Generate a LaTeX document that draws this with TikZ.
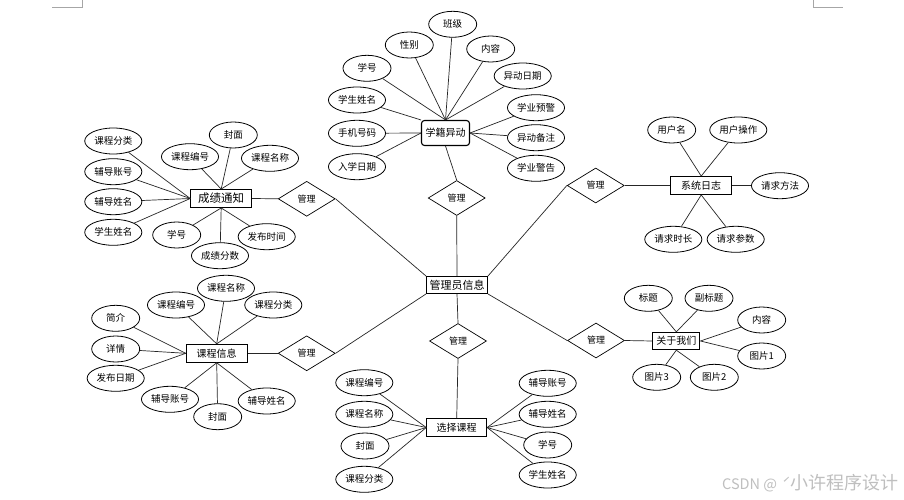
\documentclass[tikz,border=0pt]{standalone}
\usepackage{fontspec}
\setmainfont{Noto Sans CJK SC}
\usetikzlibrary{shapes.geometric}
\begin{document}
\begin{tikzpicture}[x=1pt,y=-1pt,
 attr/.style={ellipse, draw, line width=0.8pt, minimum width=48pt, minimum height=26pt, inner xsep=1.2pt, inner ysep=0pt, font=\fontsize{9.5}{10}\selectfont},
 wattr/.style={attr, minimum width=57pt},
 ent/.style={rectangle, draw, line width=0.9pt, minimum height=18pt, inner xsep=3pt, inner ysep=0pt, font=\fontsize{10}{11}\selectfont},
 rel/.style={diamond, draw, line width=0.7pt, minimum width=57pt, minimum height=35pt, aspect=1.65, inner sep=0pt, font=\fontsize{9}{10}\selectfont},
 lnk/.style={line width=0.7pt, black!85},
 cornermark/.style={line width=0.5pt, black!35}]
\useasboundingbox (0,0) rectangle (904,500);
\fill[white] (0,0) rectangle (904,500);
% page corner marks
\draw[cornermark] (52,7) -- (82,7) -- (82,0);
\draw[cornermark] (813,0) -- (813,7) -- (843,7);

% centre
\node[ent, minimum width=61pt, minimum height=17pt, font=\fontsize{11}{12}\selectfont] (adm) at (457,285) {管理员信息};

% 学籍异动
\node[ent, rounded corners=3pt, minimum width=48pt, minimum height=25pt, line width=1.1pt] (xj) at (445.5,133) {学籍异动};
\node[rel] (r1) at (456.7,198) {管理};
\node[attr] (bj) at (452.7,24.3) {班级};
\node[attr] (xb) at (409.3,45) {性别};
\node[attr] (nr) at (490.7,49) {内容};
\node[attr] (xh) at (367,68.3) {学号};
\node[wattr] (yd) at (522.7,76) {异动日期};
\node[wattr] (xs) at (357,100) {学生姓名};
\node[wattr] (yj) at (536,107.7) {学业预警};
\node[wattr] (sj) at (357,133.3) {手机号码};
\node[wattr] (bz) at (536,137.7) {异动备注};
\node[wattr] (rx) at (357,166.7) {入学日期};
\node[wattr] (jg) at (536,168.3) {学业警告};
\foreach \a in {bj,xb,nr,xh,yd} \draw[lnk] (\a) -- (xj.north);
\draw[lnk] (xs) -- (xj.north west);
\foreach \a in {sj,rx} \draw[lnk] (\a) -- (xj.west);
\foreach \a in {yj,bz,jg} \draw[lnk] (\a) -- (xj.east);
\draw[lnk] (xj.south) -- (r1.north);
\draw[lnk] (r1.south) -- (adm.north);

% 成绩通知
\node[ent, minimum width=61pt, font=\fontsize{11.5}{12}\selectfont] (cj) at (221.2,198.5) {成绩通知};
\node[rel] (r2) at (306.7,198.8) {管理};
\node[attr] (fm1) at (233.3,135) {封面};
\node[wattr] (kb1) at (190,156.7) {课程编号};
\node[wattr] (km1) at (270,158.3) {课程名称};
\node[wattr] (kf1) at (113.3,141) {课程分类};
\node[wattr] (fz1) at (113.3,171.7) {辅导账号};
\node[wattr] (fx1) at (113.3,201.7) {辅导姓名};
\node[wattr] (xs1) at (113.3,232.3) {学生姓名};
\node[attr] (xh1) at (176.7,235) {学号};
\node[wattr] (cf1) at (220,255.7) {成绩分数};
\node[wattr] (fb1) at (266.7,236.7) {发布时间};
\foreach \a in {kf1,fz1,fx1,xs1} \draw[lnk] (\a) -- (cj.west);
\foreach \a in {kb1,fm1,km1} \draw[lnk] (\a) -- (cj.north);
\foreach \a in {xh1,cf1,fb1} \draw[lnk] (\a) -- (cj.south);
\draw[lnk] (cj.east) -- (r2.west);
\draw[lnk] (r2.east) -- (adm.north west);

% 课程信息
\node[ent, minimum width=61pt] (kc) at (216.7,353.3) {课程信息};
\node[rel] (r3) at (306.7,353.3) {管理};
\node[wattr] (km2) at (226,288.3) {课程名称};
\node[wattr] (kb2) at (176,305) {课程编号};
\node[wattr] (kf2) at (273.3,305) {课程分类};
\node[attr] (jj) at (115.7,318.3) {简介};
\node[attr] (xq) at (115.7,349) {详情};
\node[wattr] (fr) at (115.7,378.3) {发布日期};
\node[wattr] (fz2) at (170,399.3) {辅导账号};
\node[attr] (fm2) at (217.7,416.7) {封面};
\node[wattr] (fx2) at (266.7,401) {辅导姓名};
\foreach \a in {kb2,km2,kf2} \draw[lnk] (\a) -- (kc.north);
\foreach \a in {jj,xq,fr} \draw[lnk] (\a) -- (kc.west);
\foreach \a in {fz2,fm2,fx2} \draw[lnk] (\a) -- (kc.south);
\draw[lnk] (kc.east) -- (r3.west);
\draw[lnk] (r3.east) -- (adm.south west);

% 选择课程
\node[rel] (r4) at (458,341) {管理};
\node[ent, minimum width=60pt] (xz) at (456.7,427.5) {选择课程};
\node[wattr] (kb3) at (364.3,382.7) {课程编号};
\node[wattr] (km3) at (364.3,414.3) {课程名称};
\node[attr] (fm3) at (365,446) {封面};
\node[wattr] (kf3) at (364.3,479.3) {课程分类};
\node[wattr] (fz3) at (547.7,383.3) {辅导账号};
\node[wattr] (fx3) at (547.7,414.3) {辅导姓名};
\node[attr] (xh3) at (547.7,445) {学号};
\node[wattr] (xs3) at (547.7,475) {学生姓名};
\draw[lnk] (adm.south) -- (r4.north);
\draw[lnk] (r4.south) -- (xz.north);
\foreach \a in {kb3,km3,fm3,kf3} \draw[lnk] (\a) -- (xz.west);
\foreach \a in {fz3,fx3,xh3,xs3} \draw[lnk] (\a) -- (xz.east);

% 系统日志
\node[rel] (r5) at (595.7,185.5) {管理};
\node[ent, minimum width=61pt] (xt) at (701.2,185.5) {系统日志};
\node[attr] (yhm) at (671.7,130) {用户名};
\node[wattr] (yhc) at (738.3,130) {用户操作};
\node[wattr] (qf) at (780,185.7) {请求方法};
\node[wattr] (qs) at (673.3,239.3) {请求时长};
\node[wattr] (qc) at (735.7,239.3) {请求参数};
\draw[lnk] (adm.north east) -- (r5.west);
\draw[lnk] (r5.east) -- (xt.west);
\foreach \a in {yhm,yhc} \draw[lnk] (\a) -- (xt.north);
\draw[lnk] (qf) -- (xt.east);
\foreach \a in {qs,qc} \draw[lnk] (\a) -- (xt.south);

% 关于我们
\node[rel] (r6) at (596,340.5) {管理};
\node[ent, minimum width=47pt, minimum height=17pt, line width=1.3pt] (gy) at (676.3,341) {关于我们};
\node[attr] (bt) at (648.3,298.3) {标题};
\node[attr] (fbt) at (709,298.3) {副标题};
\node[attr] (nr6) at (761.7,320) {内容};
\node[attr] (tp1) at (761.7,356) {图片1};
\node[attr] (tp3) at (656.7,377.3) {图片3};
\node[attr] (tp2) at (714.3,377.3) {图片2};
\draw[lnk] (adm.south east) -- (r6.west);
\draw[lnk] (r6.east) -- (gy.west);
\foreach \a in {bt,fbt} \draw[lnk] (\a) -- (gy.north);
\foreach \a in {nr6,tp1} \draw[lnk] (\a) -- (gy.east);
\foreach \a in {tp3,tp2} \draw[lnk] (\a) -- (gy.south);

% watermark
\node[font=\fontsize{14.5}{15}\selectfont, text=black!25, anchor=east, inner sep=0pt] (wm) at (899,483) {CSDN @\hspace{5pt}ˊ{\fontsize{18}{18}\selectfont 小许程序设计}};
\end{tikzpicture}
\end{document}
